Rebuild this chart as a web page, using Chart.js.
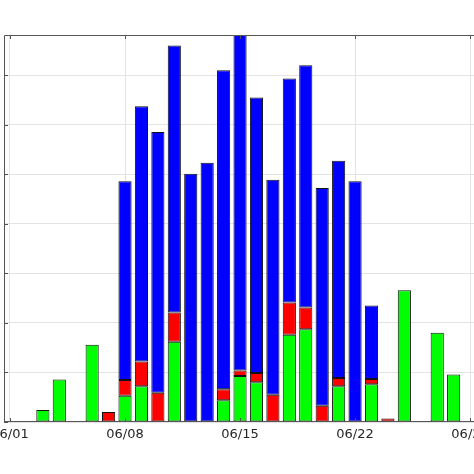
<!DOCTYPE html>
<html>
<head>
<meta charset="utf-8">
<script src="https://cdn.jsdelivr.net/npm/chart.js@4"></script>
<style>
  html, body { margin: 0; padding: 0; background: #fff; overflow: hidden; width: 474px; height: 474px; }
  #wrap { position: absolute; left: -40px; top: 0; width: 554px; height: 474px; }
</style>
</head>
<body>
<div id="wrap"><canvas id="myChart" width="554" height="474"></canvas></div>
<script>
// day of June for each bar
const days = [1, 2, 3, 4, 5, 6, 7, 8, 9, 10, 11, 12, 13, 14, 15, 16, 17, 18, 19, 20, 21, 22, 23, 24, 25, 26, 27, 28];
const greenVals = [0, 0, 2.4, 8.6, 0, 15.6, 0, 5.3, 7.2, 0, 16.2, 0, 0, 4.4, 9.3, 8.0, 0, 17.6, 18.7, 0, 7.2, 0, 7.6, 0, 26.6, 0, 18.0, 9.6];
const redVals = [0, 0, 0, 0, 0, 0, 2.0, 3.2, 5.0, 5.9, 5.9, 0, 0, 2.2, 1.1, 1.9, 5.5, 6.5, 4.4, 3.3, 1.7, 0, 1.1, 0.7, 0, 0, 0, 0];
const blueVals = [0, 0, 0, 0, 0, 0, 0, 40.1, 51.5, 52.6, 53.9, 50.1, 52.3, 64.4, 67.7, 55.6, 43.4, 45.2, 48.9, 43.9, 43.8, 48.6, 14.8, 0, 0, 0, 0, 0];

const tickDays = [1, 8, 15, 22, 29];
const tickLabels = ["06/01", "06/08", "06/15", "06/22", "06/29"];
const yTicks = [0, 10, 20, 30, 40, 50, 60, 70];

function toPoints(vals) {
  return days.map((d, i) => ({ x: d, y: vals[i] === 0 ? null : vals[i] }));
}

function barSet(label, vals, color) {
  return {
    label: label,
    data: toPoints(vals),
    backgroundColor: color,
    borderColor: "#111",
    borderWidth: 1,
    borderSkipped: false,
    barPercentage: 0.8,
    categoryPercentage: 1.0,
  };
}

// matplotlib-like frame with inward ticks
const spines = {
  id: "spines",
  afterDatasetsDraw(chart) {
    const { ctx, chartArea: a, scales } = chart;
    ctx.save();
    ctx.strokeStyle = "#555";
    ctx.lineWidth = 1;
    ctx.beginPath();
    ctx.moveTo(a.left + 0.5, a.bottom);
    ctx.lineTo(a.left + 0.5, a.top + 0.5);
    ctx.lineTo(a.right, a.top + 0.5);
    ctx.moveTo(a.left, a.bottom - 0.5);
    ctx.lineTo(a.right, a.bottom - 0.5);
    tickDays.forEach((d) => {
      const px = Math.round(scales.x.getPixelForValue(d)) + 0.5;
      ctx.moveTo(px, a.top);
      ctx.lineTo(px, a.top + 4);
      ctx.moveTo(px, a.bottom);
      ctx.lineTo(px, a.bottom - 4);
    });
    yTicks.forEach((v) => {
      const py = Math.round(scales.y.getPixelForValue(v)) + 0.5;
      ctx.moveTo(a.left, py);
      ctx.lineTo(a.left + 4, py);
    });
    ctx.stroke();
    ctx.restore();
  },
};

const ctx = document.getElementById("myChart").getContext("2d");
new Chart(ctx, {
  type: "bar",
  data: {
    datasets: [
      barSet("green", greenVals, "#00ff00"),
      barSet("red", redVals, "#ff0000"),
      barSet("blue", blueVals, "#0000ff"),
    ],
  },
  options: {
    responsive: false,
    animation: false,
    layout: { padding: { left: 44, right: 38, top: 35, bottom: 0 } },
    plugins: { legend: { display: false }, tooltip: { enabled: false } },
    scales: {
      x: {
        type: "linear",
        stacked: true,
        offset: false,
        min: 0.635,
        max: 29.36,
        afterBuildTicks: (scale) => {
          scale.ticks = tickDays.map((d) => ({ value: d }));
        },
        afterFit: (scale) => {
          scale.height = 52;
        },
        ticks: {
          autoSkip: false,
          maxRotation: 0,
          padding: 5,
          color: "#262626",
          font: { family: "DejaVu Sans", size: 13 },
          callback: (v) => tickLabels[tickDays.indexOf(v)],
        },
        grid: { color: "#e3e3e3", drawTicks: false, offset: false },
        border: { display: false },
      },
      y: {
        stacked: true,
        min: 0,
        max: 78.1,
        afterBuildTicks: (scale) => {
          scale.ticks = yTicks.map((v) => ({ value: v }));
        },
        afterFit: (scale) => {
          scale.width = 0;
        },
        ticks: { display: false },
        grid: { color: "#e3e3e3", drawTicks: false },
        border: { display: false },
      },
    },
  },
  plugins: [spines],
});
</script>
</body>
</html>
